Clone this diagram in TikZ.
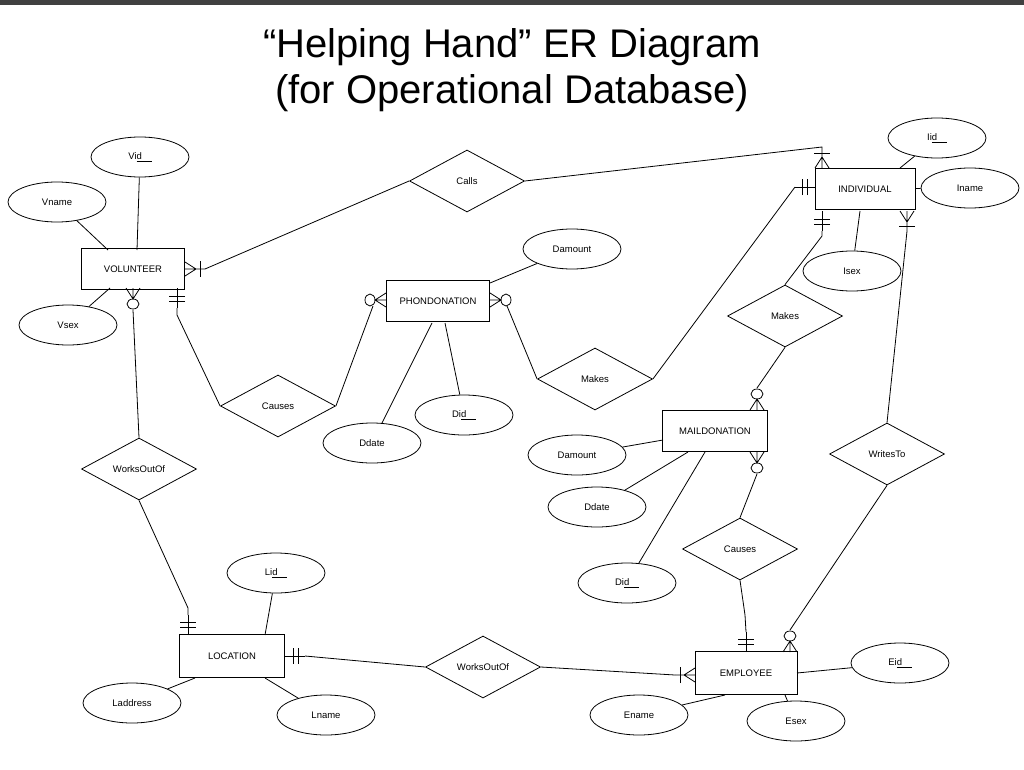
\documentclass[tikz,border=0pt]{standalone}
\usepackage{fontspec}
\setmainfont{Liberation Sans}
\usetikzlibrary{shapes.geometric}

% cardinality marks, local x points away from the entity
\newcommand{\mkOneMany}[3]{\begin{scope}[shift={(#1,#2)},rotate=#3]
  \draw (0,-7)--(11,0)--(0,7) (0,0)--(20,0); \draw (15,-8)--(15,8);\end{scope}}
\newcommand{\mkZeroMany}[3]{\begin{scope}[shift={(#1,#2)},rotate=#3]
  \draw (0,-7)--(11,0)--(0,7) (0,0)--(11,0); \draw (16,0) ellipse (5 and 6);\end{scope}}
\newcommand{\mkOneOne}[3]{\begin{scope}[shift={(#1,#2)},rotate=#3]
  \draw (0,0)--(20,0); \draw (8,-8)--(8,8) (13,-8)--(13,8);\end{scope}}

\begin{document}
\begin{tikzpicture}[x=1pt,y=-1pt,font=\fontsize{9.5}{11}\selectfont,
  entity/.style={draw,thick,minimum width=103pt,minimum height=41pt,inner sep=1pt},
  rel/.style={draw,thick,diamond,aspect=1.85,minimum width=115pt,minimum height=62pt,inner sep=0pt},
  attr/.style={draw,thick,ellipse,minimum width=98pt,minimum height=40pt}]
  \useasboundingbox (0,0) rectangle (1024,770);
  \fill[black!75] (0,0) rectangle (1024,5);
  \node[font=\fontsize{40}{46}\selectfont,align=center] (title) at (512,70)
    {“Helping Hand” ER Diagram\\(for Operational Database)};

  % entities
  \node[entity] (vol) at (133,269) {VOLUNTEER};
  \node[entity] (phon) at (438,301) {PHONDONATION};
  \node[entity,minimum width=100pt] (ind) at (865,189) {INDIVIDUAL};
  \node[entity,minimum width=105pt] (mail) at (715,431) {MAILDONATION};
  \node[entity,minimum width=105pt,minimum height=43pt] (loc) at (232,656) {LOCATION};
  \node[entity,minimum width=102pt,minimum height=43pt] (emp) at (746,673) {EMPLOYEE};

  % relationships
  \node[rel] (calls) at (467,181) {Calls};
  \node[rel] (causesA) at (278,406) {Causes};
  \node[rel] (makesA) at (595,379) {Makes};
  \node[rel] (makesB) at (785,316) {Makes};
  \node[rel] (worksA) at (139,469) {WorksOutOf};
  \node[rel] (writes) at (887,454) {WritesTo};
  \node[rel] (causesB) at (740,549) {Causes};
  \node[rel] (worksB) at (483,667) {WorksOutOf};

  % attributes
  \node[attr] (vid) at (140,157) {Vi\underline{d\phantom{xx}}};
  \node[attr] (vname) at (57,202) {Vname};
  \node[attr] (vsex) at (68,325) {Vsex};
  \node[attr] (pamt) at (572,249) {Damount};
  \node[attr] (pdid) at (464,415) {Di\underline{d\phantom{xx}}};
  \node[attr] (pdate) at (372,443) {Ddate};
  \node[attr] (iid) at (937,138) {Ii\underline{d\phantom{xx}}};
  \node[attr] (iname) at (970,188) {Iname};
  \node[attr] (isex) at (852,271) {Isex};
  \node[attr] (mamt) at (577,455) {Damount};
  \node[attr] (mdate) at (597,507) {Ddate};
  \node[attr] (mdid) at (627,583) {Di\underline{d\phantom{xx}}};
  \node[attr] (lid) at (276,573) {Li\underline{d\phantom{xx}}};
  \node[attr] (ladd) at (132,703) {Laddress};
  \node[attr] (lname) at (326,715) {Lname};
  \node[attr] (ename) at (639,715) {Ename};
  \node[attr] (eid) at (900,663) {Ei\underline{d\phantom{xx}}};
  \node[attr] (esex) at (796,721) {Esex};

  \begin{scope}[thick]
  % attribute links
  \draw (vid) -- (137,250);
  \draw (vname) -- (108,250);
  \draw (vsex) -- (110,288);
  \draw (pamt) -- (490,283);
  \draw (pdid) -- (445,323);
  \draw (pdate) -- (432,323);
  \draw (iid) -- (900,168);
  \draw (iname) -- (ind);
  \draw (isex) -- (860,211);
  \draw (mamt) -- (663,440);
  \draw (mdate) -- (688,452);
  \draw (mdid) -- (705,452);
  \draw (lid) -- (265,635);
  \draw (ladd) -- (195,678);
  \draw (lname) -- (265,678);
  \draw (ename) -- (725,695);
  \draw (eid) -- (797,673);
  \draw (esex) -- (785,695);

  % relationship links
  \mkOneMany{185}{269}{0}
  \draw (205,269) -- (calls.west);
  \mkOneMany{822}{168}{90}
  \coordinate (callsBend) at (822,147);
  \draw (calls.east) -- (callsBend) -- (822,148);
  \mkZeroMany{133}{288}{-90}
  \draw (133,310) -- (worksA.north);
  \mkOneOne{177}{288}{-90}
  \draw (177,308) -- (177,315) -- (causesA.west);
  \mkZeroMany{386}{300}{180}
  \draw (causesA.east) -- (373,306);
  \mkZeroMany{490}{300}{0}
  \draw (507,306) -- (makesA.west);
  \mkOneOne{815}{187}{180}
  \draw (makesA.east) -- (795,187);
  \mkOneOne{822}{211}{-90}
  \draw (822,231) -- (822,236) -- (makesB.north);
  \mkZeroMany{757}{410}{90}
  \draw (makesB.south) -- (757,388);
  \mkZeroMany{757}{452}{-90}
  \draw (757,474) -- (causesB.north);
  \mkOneOne{746}{652}{90}
  \draw (causesB.south) -- (745,615) -- (746,632);
  \mkZeroMany{790}{652}{90}
  \draw (790,630) -- (writes.south);
  \mkOneMany{907}{211}{-90}
  \draw (907,231) -- (writes.north);
  \mkOneOne{188}{635}{90}
  \draw (worksA.south) -- (188,608) -- (188,615);
  \mkOneOne{285}{656}{0}
  \draw (305,656) -- (worksB.west);
  \mkOneMany{695}{675}{180}
  \draw (worksB.east) -- (675,675);
  \end{scope}
\end{tikzpicture}
\end{document}
